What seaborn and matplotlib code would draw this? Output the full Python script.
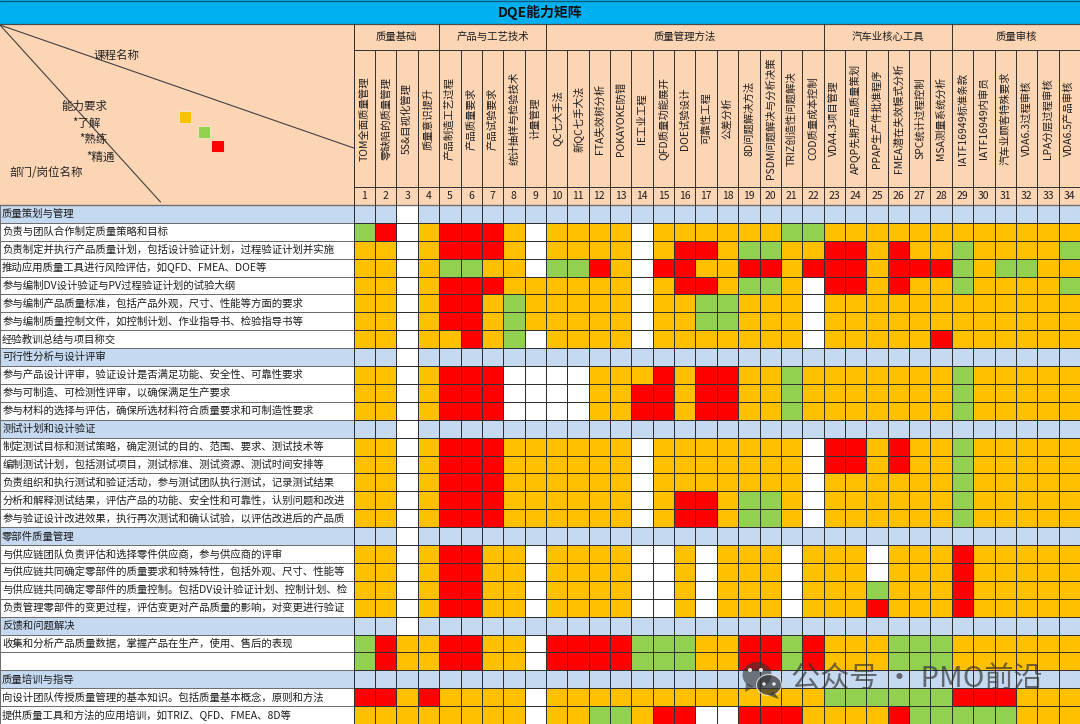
import matplotlib
matplotlib.use("Agg")
import matplotlib.pyplot as plt
import numpy as np
import seaborn as sns
from matplotlib.colors import ListedColormap
from matplotlib.patches import Rectangle, Ellipse, Polygon

sns.set_theme(style="white")
plt.rcParams['font.family'] = ['Noto Sans CJK SC', 'DejaVu Sans']

title = "DQE能力矩阵"
course_groups = ["质量基础", "产品与工艺技术", "质量管理方法", "汽车业核心工具", "质量审核"]
group_sizes = [4, 5, 13, 6, 6]
courses = ["TOM全面质量管理", "零缺陷的质量管理", "5S&目视化管理", "质量意识提升", "产品制造工艺过程",
           "产品质量要求", "产品试验要求", "统计抽样与检验技术", "计量管理", "QC七大手法", "新QC七手大法",
           "FTA失效树分析", "POKAYOKE防错", "IE工业工程", "QFD质量功能展开", "DOE试验设计", "可靠性工程",
           "公差分析", "8D问题解决方法", "PSDM问题解决与分析决策", "TRIZ创造性问题解决", "COD质量成本控制",
           "VDA4.3项目管理", "APQP先期产品质量策划", "PPAP生产件批准程序", "FMEA潜在失效模式分析",
           "SPC统计过程控制", "MSA测量系统分析", "IATF16949标准条款", "IATF16949内审员", "汽车业顾客特殊要求",
           "VDA6.3过程审核", "LPA分层过程审核", "VDA6.5产品审核"]

# one row label + one row of levels: W none, O understand, G skilled, R expert, B section band
S1 = "BBWBBBBBBBBBBBBBBBBBBBBBBBBBBBBBBB"
S2 = "BBBBBBBBBBBBBBBBBBBBBBBBBBBBBBBBBB"
row_labels = [
    "质量策划与管理",
    "负责与团队合作制定质量策略和目标",
    "负责制定并执行产品质量计划，包括设计验证计划，过程验证计划并实施",
    "推动应用质量工具进行风险评估，如QFD、FMEA、DOE等",
    "参与编制DV设计验证与PV过程验证计划的试验大纲",
    "参与编制产品质量标准，包括产品外观，尺寸、性能等方面的要求",
    "参与编制质量控制文件，如控制计划、作业指导书、检验指导书等",
    "经验教训总结与项目称交",
    "可行性分析与设计评审",
    "参与产品设计评审，验证设计是否满足功能、安全性、可靠性要求",
    "参与可制造、可检测性评审，以确保满足生产要求",
    "参与材料的选择与评估，确保所选材料符合质量要求和可制造性要求",
    "测试计划和设计验证",
    "制定测试目标和测试策略，确定测试的目的、范围、要求、测试技术等",
    "编制测试计划，包括测试项目，测试标准、测试资源、测试时间安排等",
    "负责组织和执行测试和验证活动，参与测试团队执行测试，记录测试结果",
    "分析和解释测试结果，评估产品的功能、安全性和可靠性，认别问题和改进",
    "参与验证设计改进效果，执行再次测试和确认试验，以评估改进后的产品质",
    "零部件质量管理",
    "与供应链团队负责评估和选择零件供应商，参与供应商的评审",
    "与供应链共同确定零部件的质量要求和特殊特性，包括外观、尺寸、性能等",
    "与供应链共同确定零部件的质量控制。包括DV设计验证计划、控制计划、检",
    "负责管理零部件的变更过程，评估变更对产品质量的影响，对变更进行验证",
    "反馈和问题解决",
    "收集和分析产品质量数据，掌握产品在生产，使用、售后的表现",
    "",
    "质量培训与指导",
    "向设计团队传授质量管理的基本知识。包括质量基本概念，原则和方法",
    "提供质量工具和方法的应用培训，如TRIZ、QFD、FMEA、8D等",
]
row_levels = [
    S1,
    "GRWORRRO" + "W" + "OOOOWOOOOOOGG" + "OOOOOO" + "OOOOOO",
    "OOWORRRO" + "W" + "OOOOWORROGGOO" + "RROROO" + "GOOOOG",
    "OOWOGGOO" + "W" + "GGROWRROORROR" + "RRORRR" + "GOGGOO",
    "OOWORRRO" + "O" + "OOOOWORROGGOW" + "RROROO" + "GOOOOG",
    "OOWORROG" + "O" + "OOOOWOOGGOOOW" + "OOOOOO" + "OOOOOO",
    "OOWORROG" + "O" + "OOOOWOOGGOOOW" + "OOOOOO" + "OOOOOO",
    "OOWOOROG" + "W" + "OOOOWOOOOOOOW" + "OOOOOR" + "OOOOOO",
    S1,
    "OOWORRRW" + "W" + "WWOOORORROOGO" + "OOOOOO" + "GOOOOO",
    "OOWORRRW" + "W" + "WWOORRORROOGO" + "OOOOOO" + "GOOOOO",
    "OOWORRRW" + "W" + "WWOORRORROOGO" + "OOOOOO" + "GOOOOO",
    S1,
    "OOWORRRO" + "O" + "OOOOWOOOOOOOW" + "RROROO" + "GOOOOO",
    "OOWORRRO" + "O" + "OOOOWOOOOOOOW" + "RROROO" + "GOOOOO",
    "OOWORRRO" + "O" + "OOOOWOOOOOOOW" + "OOOOOO" + "GOOOOO",
    "OOWORRRO" + "O" + "OOOOWORROGGOW" + "OOOOOO" + "GOOOOO",
    "OOWORRRO" + "O" + "OOOOWORROGGOW" + "OOOOOO" + "GOOOOO",
    S1,
    "OOWORROO" + "W" + "OOOOWWOWOOOWO" + "OOWOOO" + "ROOOOO",
    "OOWORROO" + "W" + "OOOOWWOWOOOWO" + "OOWOOO" + "ROOOOO",
    "OOWORROO" + "W" + "OOOOWWOWOOOWO" + "OOGOOO" + "ROOOOO",
    "OOWORROO" + "W" + "OOOOWWOWOOOWO" + "OOROOO" + "ROOOOO",
    S1,
    "GROORROO" + "W" + "RRRRGGGOORRGR" + "OOOGGG" + "OOOOOO",
    "GROORROO" + "W" + "RRRRGGGOORRGR" + "OOOGGG" + "OOOOOO",
    S2,
    "RROROOOO" + "W" + "OOOOOOOOOOOOO" + "GGGGGG" + "RRROOO",
    "OOOOOOOO" + "W" + "OOGGORRWWRRRO" + "OOORGG" + "GGGOOO",
]
level_codes = "WOGRB"
level_colors = ["#FFFFFF", "#FFC000", "#92D050", "#FF0000", "#C5D9F1"]
legend_levels = ["*了解", "*熟练", "*精通"]

W, H = 1080, 724
LEFT, TOP_TITLE, TOP_GROUP, TOP_NUM, TOP_BODY = 353.7, 24, 50, 187, 205
LINE = "#303030"
HEADER = "#FCD5B4"
FS = 7.5


def pixel_axes(x0, y0, x1, y1):
    ax = fig.add_axes([x0 / W, 1 - y1 / H, (x1 - x0) / W, (y1 - y0) / H])
    return ax


fig = plt.figure(figsize=(W / 100, H / 100), dpi=100, facecolor=HEADER)

# matrix
matrix = np.array([[level_codes.index(c) for c in r] for r in row_levels])
cmap = ListedColormap(level_colors)
ax_m = pixel_axes(LEFT, TOP_BODY, W, H)
sns.heatmap(matrix, ax=ax_m, cmap=cmap, vmin=-0.5, vmax=4.5, cbar=False,
            linewidths=0.7, linecolor=LINE, xticklabels=False, yticklabels=False)

# row label column
is_section = np.array([[4 if r in (S1, S2) else 0] for r in row_levels])
ax_l = pixel_axes(0, TOP_BODY, LEFT, H)
sns.heatmap(is_section, ax=ax_l, cmap=cmap, vmin=-0.5, vmax=4.5, cbar=False,
            linewidths=0.7, linecolor="#6E6E6E", xticklabels=False, yticklabels=False)
for i, lab in enumerate(row_labels):
    ax_l.text(0.006, i + 0.5, lab, ha="left", va="center", fontsize=FS, color="#1E1E1E", clip_on=True)

# header in pixel coordinates
ax = pixel_axes(0, 0, W, H)
ax.set_xlim(0, W)
ax.set_ylim(H, 0)
ax.axis("off")
ax.patch.set_alpha(0)
ax.add_patch(Rectangle((0, 0), W, TOP_TITLE, fc="#00B0F0", ec="none"))
ax.add_patch(Rectangle((0, TOP_TITLE), W, TOP_BODY - TOP_TITLE, fc=HEADER, ec="none"))
ax.plot([0, W], [0.6, 0.6], color="#0A5F80", lw=1)
ax.plot([0, W], [TOP_TITLE, TOP_TITLE], color="#4A4A4A", lw=0.9)
ax.plot([0, W], [TOP_BODY, TOP_BODY], color="#6E6E6E", lw=1.0)
ax.text(540, 12, title, ha="center", va="center", fontsize=10, fontweight="bold", color="#101010")

cw = (W - LEFT) / len(courses)
ax.plot([LEFT, W], [TOP_GROUP, TOP_GROUP], color=LINE, lw=0.7)
ax.plot([LEFT, W], [TOP_NUM, TOP_NUM], color=LINE, lw=0.7)
ax.plot([LEFT, LEFT], [TOP_TITLE, TOP_BODY], color=LINE, lw=0.7)
start = 0
for name, n in zip(course_groups, group_sizes):
    x0 = LEFT + start * cw
    ax.text(x0 + n * cw / 2, 37, name, ha="center", va="center", fontsize=FS, color="#1E1E1E")
    ax.plot([x0, x0], [TOP_TITLE, TOP_GROUP], color=LINE, lw=0.7)
    start += n
for i, name in enumerate(courses):
    xc = LEFT + (i + 0.5) * cw
    ax.plot([LEFT + i * cw] * 2, [TOP_GROUP, TOP_BODY], color=LINE, lw=0.7)
    ax.text(xc, 118.5, name, ha="center", va="center", rotation=90, fontsize=FS, color="#1E1E1E")
    ax.text(xc, 196, str(i + 1), ha="center", va="center", fontsize=FS, color="#1E1E1E")

# diagonal corner cell
ax.plot([0, LEFT], [TOP_TITLE + 1, 148], color="#404040", lw=0.8)
ax.plot([0, 160.5], [TOP_TITLE + 1, 202], color="#404040", lw=0.8)
ax.text(116, 56, "课程名称", ha="center", va="center", fontsize=8.3, color="#262626")
ax.text(84, 106, "能力要求", ha="center", va="center", fontsize=8.3, color="#262626")
for txt, x, y in zip(legend_levels, [86, 93, 100], [123, 140, 157]):
    ax.text(x, y, txt, ha="center", va="center", fontsize=8.3, color="#262626")
ax.text(46, 173, "部门/岗位名称", ha="center", va="center", fontsize=8.3, color="#262626")
for c, x, y in zip(level_colors[1:4], [178.5, 197.5, 211], [111, 126, 140]):
    ax.add_patch(Rectangle((x, y), 12.5, 12, fc=c, ec="#F5E6C8", lw=0.6))

# watermark
wm = "#333333"
ax.add_patch(Ellipse((757, 675), 29, 26, fc=wm, ec="none", alpha=0.62))
ax.add_patch(Polygon([[746, 683], [745, 692], [754, 687]], fc=wm, ec="none", alpha=0.62))
ax.add_patch(Ellipse((769, 685), 25, 21, fc=wm, ec="white", lw=0.8, alpha=0.72))
ax.add_patch(Polygon([[774, 692], [779, 699], [768, 695]], fc=wm, ec="none", alpha=0.72))
for x, y in [(750, 670), (761, 670)]:
    ax.add_patch(Ellipse((x, y), 4, 4, fc="white", ec="none", alpha=0.85))
for x, y in [(764, 684), (774, 684)]:
    ax.add_patch(Ellipse((x, y), 3.5, 3.5, fc="white", ec="none", alpha=0.85))
ax.text(791, 680, "公众号 · PMO前沿", ha="left", va="center", fontsize=21, color=wm, alpha=0.68)

fig.savefig("out.png", dpi=100, facecolor=HEADER)
